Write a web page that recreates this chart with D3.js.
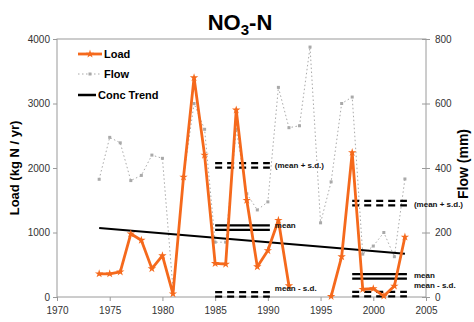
<!DOCTYPE html>
<html><head><meta charset="utf-8">
<script src="https://cdn.jsdelivr.net/npm/d3@7"></script>
<style>
html,body{margin:0;padding:0;background:#fff;}
svg{display:block;font-family:"Liberation Sans",Arial,sans-serif;}
</style></head>
<body><svg id="c" width="474" height="322"></svg>
<script>
// ---- data ----
const years = d3.range(1974, 2004);
const load = [360,360,390,980,880,440,640,50,1860,3400,2200,520,510,2900,1500,470,720,1190,175,null,null,null,10,625,2240,120,130,15,170,930];
const flow = [365,495,478,361,377,440,430,25,372,600,520,170,170,520,320,270,295,650,525,531,775,230,357,600,620,133,158,200,125,366];
const trendYears = [1974, 2003];
const trendVals = [1070, 670];
const periodStart = [1985, 1998];
const periodEnd = [1990, 2003];
const meanVals = [1075, 320];
const plusVals = [2040, 1455];
const minusVals = [40, 45];
const loadTicks = [0,1000,2000,3000,4000];
const flowTicks = [0,200,400,600,800];
const yearTicks = [1970,1975,1980,1985,1990,1995,2000,2005];

const svg = d3.select("#c");
const L=57, R=426, T=39, B=297;
const x = d3.scaleLinear().domain([1970,2005]).range([L,R]);
const yL = d3.scaleLinear().domain([0,4000]).range([B,T]);
const yF = d3.scaleLinear().domain([0,800]).range([B,T]);
const orange="#f5691c", grayc="#a9a9a9", axc="#9a9a9a";
const fmt = d3.format("d");

// frame
svg.append("rect").attr("x",L).attr("y",T).attr("width",R-L).attr("height",B-T)
  .attr("fill","none").attr("stroke",axc).attr("stroke-width",1);

// left axis
const gl = svg.append("g").attr("transform",`translate(${L},0)`);
gl.call(d3.axisLeft(yL).tickValues(d3.range(0,4001,200)).tickSize(3).tickFormat(""));
gl.call(d3.axisLeft(yL).tickValues(loadTicks).tickSizeInner(4).tickSizeOuter(0).tickPadding(3).tickFormat(fmt));
gl.selectAll("path").remove();
gl.selectAll("line").attr("stroke",axc);
gl.selectAll("text").attr("font-size",10).attr("fill","#333").attr("font-family","Liberation Sans, Arial, sans-serif");

// right axis
const gr = svg.append("g").attr("transform",`translate(${R},0)`);
gr.call(d3.axisRight(yF).tickValues(flowTicks).tickSizeInner(4).tickSizeOuter(0).tickPadding(5).tickFormat(fmt));
gr.selectAll("path").remove();
gr.selectAll("line").attr("stroke",axc).attr("x1",-4);
gr.selectAll("text").attr("font-size",10).attr("fill","#333").attr("font-family","Liberation Sans, Arial, sans-serif");

// bottom axis
const gb = svg.append("g").attr("transform",`translate(0,${B})`);
gb.call(d3.axisBottom(x).tickValues(d3.range(1970,2006,1)).tickSize(3).tickFormat(""));
gb.call(d3.axisBottom(x).tickValues(yearTicks).tickSizeInner(4).tickSizeOuter(0).tickPadding(6).tickFormat(fmt));
gb.selectAll("path").remove();
gb.selectAll("line").attr("stroke",axc);
gb.selectAll("text").attr("font-size",10).attr("fill","#333").attr("font-family","Liberation Sans, Arial, sans-serif");

// flow line
const fdata = years.map((yr,i)=>({x:yr,v:flow[i]}));
svg.append("path").datum(fdata)
  .attr("d",d3.line().x(d=>x(d.x)).y(d=>yF(d.v)))
  .attr("fill","none").attr("stroke",grayc).attr("stroke-width",1).attr("stroke-dasharray","1.5,2.5");
svg.selectAll(".fm").data(fdata).enter().append("rect")
  .attr("x",d=>x(d.x)-1.5).attr("y",d=>yF(d.v)-1.5).attr("width",3).attr("height",3).attr("fill",grayc);

// stats lines
function dbl(g, x1, x2, yv, dashed){
  [-2.2,2.2].forEach(o=>{
    g.append("line").attr("x1",x1).attr("x2",x2).attr("y1",yv+o).attr("y2",yv+o)
      .attr("stroke","#000").attr("stroke-width",2.2)
      .attr("stroke-dasharray",dashed?"7,5":null);
  });
}
const gs = svg.append("g");
periodStart.forEach((s,i)=>{
  dbl(gs, x(s), x(periodEnd[i])+2, yL(meanVals[i]), false);
  dbl(gs, x(s), x(periodEnd[i])+2, yL(plusVals[i]), true);
  dbl(gs, x(s), x(periodEnd[i])+2, yL(Math.max(minusVals[i],0)), true);
});

// trend
svg.append("path").datum(trendYears.map((yr,i)=>({x:yr,v:trendVals[i]})))
  .attr("d",d3.line().x(d=>x(d.x)).y(d=>yL(d.v)))
  .attr("fill","none").attr("stroke","#000").attr("stroke-width",2);

// load line
const ldata = years.map((yr,i)=>({x:yr,v:load[i]}));
svg.append("path").datum(ldata)
  .attr("d",d3.line().defined(d=>d.v!==null).x(d=>x(d.x)).y(d=>yL(d.v)))
  .attr("fill","none").attr("stroke",orange).attr("stroke-width",2.8).attr("stroke-linejoin","round");
const star = d3.symbol().type(d3.symbolStar).size(22);
svg.selectAll(".lm").data(ldata.filter(d=>d.v!==null)).enter().append("path")
  .attr("d",star).attr("transform",d=>`translate(${x(d.x)},${yL(d.v)})`).attr("fill",orange);

// stat labels (on top)
const lab = (tx,ty,t)=>svg.append("text").attr("x",tx).attr("y",ty).attr("dy","0.35em")
  .attr("font-size",8).attr("font-weight","bold").attr("fill","#111").text(t);
lab(x(periodEnd[0])+7, yL(plusVals[0]), "(mean + s.d.)");
lab(x(periodEnd[0])+7, yL(meanVals[0])-2, "mean");
lab(x(periodEnd[0])+7, yL(minusVals[0])-6, "mean - s.d.");
lab(x(periodEnd[1])+9, yL(plusVals[1])+1, "(mean + s.d.)");
lab(x(periodEnd[1])+9, yL(meanVals[1])-1.5, "mean");
lab(x(periodEnd[1])+9, yL(minusVals[1])-8.5, "mean - s.d.");

// legend
const lg = svg.append("g");
lg.append("line").attr("x1",78).attr("x2",102).attr("y1",54).attr("y2",54).attr("stroke",orange).attr("stroke-width",2.8);
lg.append("path").attr("d",star).attr("transform","translate(90,54)").attr("fill",orange);
lg.append("text").attr("x",104).attr("y",54).attr("dy","0.35em").attr("font-size",11).attr("font-weight","bold").text("Load");
lg.append("line").attr("x1",78).attr("x2",102).attr("y1",74).attr("y2",74).attr("stroke",grayc).attr("stroke-width",1).attr("stroke-dasharray","1.5,2.5");
lg.append("rect").attr("x",88.5).attr("y",72.5).attr("width",3).attr("height",3).attr("fill",grayc);
lg.append("text").attr("x",104).attr("y",74).attr("dy","0.35em").attr("font-size",11).attr("font-weight","bold").text("Flow");
lg.append("line").attr("x1",78).attr("x2",96).attr("y1",95).attr("y2",95).attr("stroke","#000").attr("stroke-width",2.5);
lg.append("text").attr("x",98).attr("y",95).attr("dy","0.35em").attr("font-size",11).attr("font-weight","bold").text("Conc Trend");

// title
const tt = svg.append("text").attr("x",240).attr("y",30).attr("text-anchor","middle")
  .attr("font-size",22).attr("font-weight","bold").attr("fill","#000");
tt.append("tspan").text("NO");
tt.append("tspan").attr("font-size",15).attr("dy",5).text("3");
tt.append("tspan").attr("dy",-5).text("-N");

// axis titles
svg.append("text").attr("transform",`translate(19,168) rotate(-90)`).attr("text-anchor","middle")
  .attr("font-size",13).attr("font-weight","bold").text("Load (kg N / yr)");
svg.append("text").attr("transform",`translate(468,164) rotate(-90)`).attr("text-anchor","middle")
  .attr("font-size",14).attr("font-weight","bold").text("Flow (mm)");
</script></body></html>
